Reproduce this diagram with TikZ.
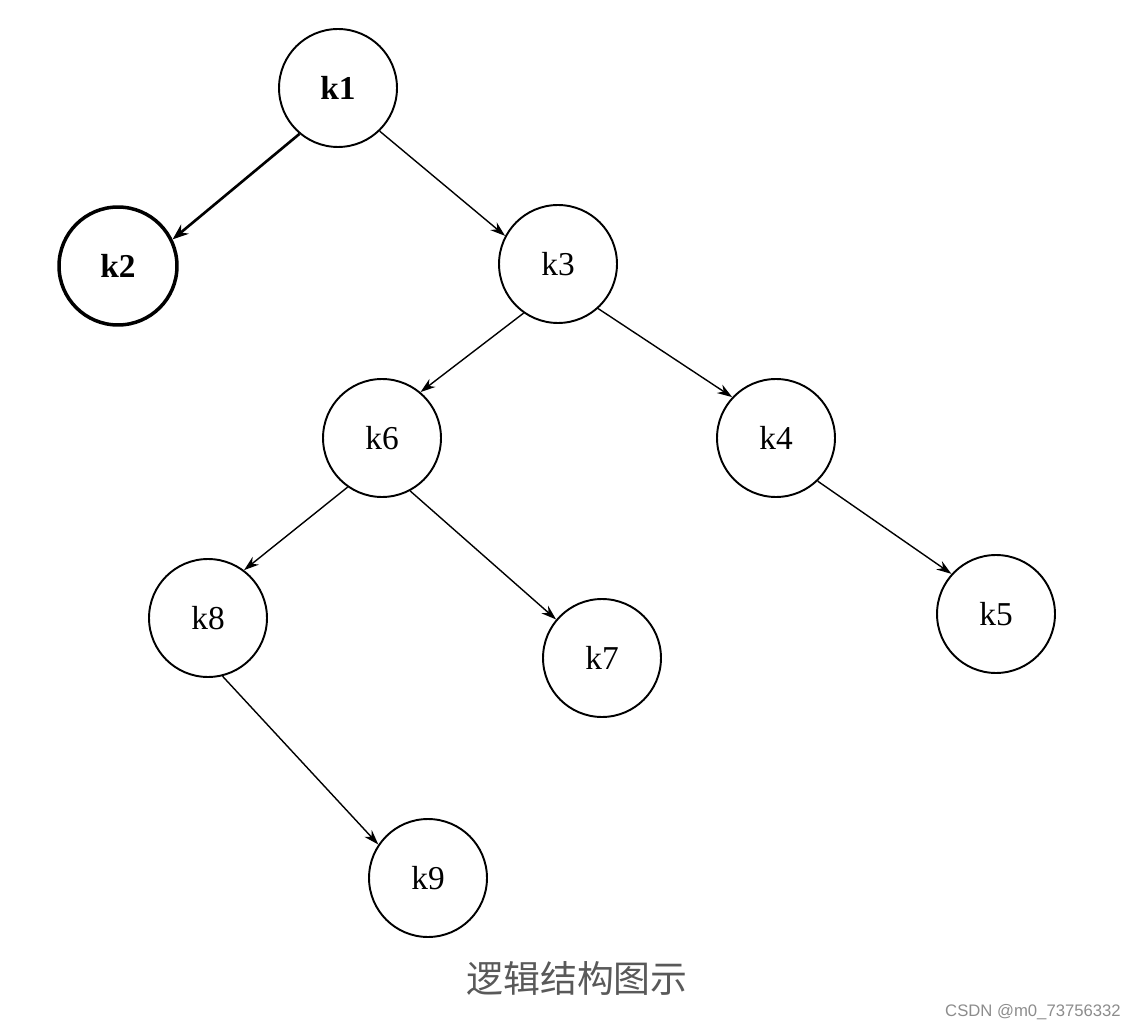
\documentclass[tikz,border=0pt]{standalone}
\usepackage{fontspec}
\setmainfont{Liberation Serif}
\newfontfamily\cjk{Noto Sans CJK SC}
\newfontfamily\wmfont{Liberation Sans}
\usepackage{xcolor}
\usepackage{tikz}
\usetikzlibrary{arrows.meta}

\begin{document}
\begin{tikzpicture}[
  x=0.02cm, y=-0.02cm,
  font=\fontsize{19}{22}\selectfont,
  key/.style={draw, circle, minimum size=2.36cm, inner sep=0pt, line width=1.1pt},
  heavy/.style={key, line width=2pt, font=\fontsize{19}{22}\selectfont\bfseries},
  link/.style={-{Stealth[length=3mm,width=2mm]}, line width=0.8pt},
  thick link/.style={-{Stealth[length=3.2mm,width=2.4mm]}, line width=1.5pt}
]
\useasboundingbox (0,0) rectangle (1136,1030);
% tree nodes
\node[key, font=\fontsize{19}{22}\selectfont\bfseries] (k1) at (338,88) {k1};
\node[heavy] (k2) at (118,266) {k2};
\node[key] (k3) at (558,264) {k3};
\node[key] (k6) at (382,438) {k6};
\node[key] (k4) at (776,438) {k4};
\node[key] (k8) at (208,618) {k8};
\node[key] (k7) at (602,658) {k7};
\node[key] (k5) at (996,614) {k5};
\node[key] (k9) at (428,878) {k9};
% edges
\draw[thick link] (k1.230) -- (k2.26);
\draw[link] (k1.314) -- (k3.152);
\draw[link] (k3.235) -- (k6.50);
\draw[link] (k3.312) -- (k4.137);
\draw[link] (k6.235) -- (k8.53);
\draw[link] (k6.298) -- (k7.140);
\draw[link] (k4.314) -- (k5.138);
\draw[link] (k8.284) -- (k9.146);
% caption
\node[font=\cjk\fontsize{21}{24}\selectfont, text=black!65] (cap) at (577,978) {逻辑结构图示};
\node[font=\wmfont\fontsize{9.5}{11}\selectfont, text=black!45] (mark) at (1033,1012) {CSDN @m0\_73756332};
\end{tikzpicture}
\end{document}
